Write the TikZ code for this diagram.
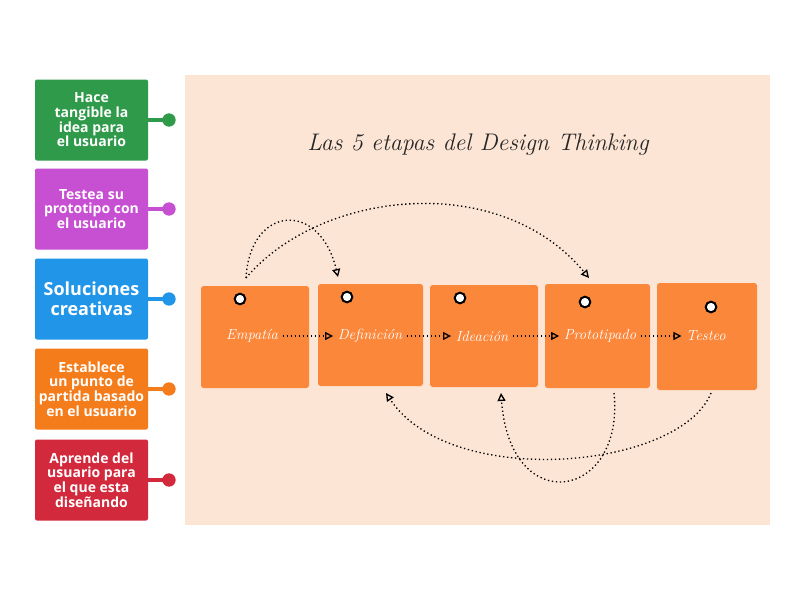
\documentclass[tikz,border=0pt]{standalone}
\usepackage{fontspec}
\setsansfont{Open Sans}
\usetikzlibrary{arrows.meta}
\definecolor{bgp}{HTML}{FDE5D5}
\definecolor{note}{HTML}{FB873B}
\definecolor{cg}{HTML}{2E9A4A}
\definecolor{cp}{HTML}{C64FD2}
\definecolor{cb}{HTML}{2196E8}
\definecolor{co}{HTML}{F57C1A}
\definecolor{cr}{HTML}{D22A3C}
\begin{document}
\begin{tikzpicture}[x=0.75pt,y=-0.75pt,
  lbox/.style={minimum width=84.75pt,minimum height=60.75pt,inner sep=1pt,text=white,font=\sffamily\bfseries\fontsize{10.5}{11}\selectfont,align=center},
  stick/.style={fill=note,rounded corners=2pt},
  pin/.style={circle,draw=black,line width=1.5pt,fill=white,inner sep=0pt,minimum size=8pt},
  lab/.style={text=white,font=\itshape\fontsize{11}{13}\selectfont},
  dl/.style={dotted,line width=1pt,-{Triangle[open,length=6pt,width=6pt,line width=1pt]}}]
\fill[white] (0,0) rectangle (800,600);
\fill[bgp] (185,75) rectangle (770,525);
\foreach \c/\y/\t/\n in {cg/120/{Hace\\tangible la\\idea para\\el usuario}/a, cp/209/{Testea su\\prototipo con\\el usuario}/b, cb/299/{}/c, co/389/{Establece\\un punto de\\partida basado\\en el usuario}/d, cr/480/{Aprende del\\usuario para\\el que esta\\diseñando}/e}{
  \node[lbox,fill=\c,rounded corners=1.5pt] (\n) at (91.5,\y) {\t};
  \coordinate (\n d) at (169,\y);
  \draw[\c,line width=2.5pt] (\n.east) -- (\n d);
  \fill[\c] (\n d) circle (5pt);
}
\node[text=white,font=\sffamily\bfseries\fontsize{13.5}{15}\selectfont,align=center] at (c) {Soluciones\\creativas};
\node[font=\itshape\fontsize{18}{20}\selectfont,text=black!85] (title) at (478,145) {Las 5 etapas del Design Thinking};
\fill[stick] (201,286) rectangle (309,388);
\fill[stick] (318,284) rectangle (423,386);
\fill[stick] (430,285) rectangle (538,387);
\fill[stick] (545,284) rectangle (650,388);
\fill[stick] (657,283) rectangle (757,390);
\node[pin] at (240,299) {};
\node[pin] at (347,297) {};
\node[pin] at (460,298) {};
\node[pin] at (585,302) {};
\node[pin] at (711,307) {};
\node[lab] (s1) at (252,336) {Empatía};
\node[lab] (s2) at (370,336) {Definición};
\node[lab] (s3) at (482,336) {Ideación};
\node[lab] (s4) at (600,336) {Prototipado};
\node[lab] (s5) at (706,336) {Testeo};
\draw[dl] (s1) -- (s2);
\draw[dl] (s2) -- (s3);
\draw[dl] (s3) -- (s4);
\draw[dl] (s4) -- (s5);
\coordinate (p0) at (246,278);
\coordinate (p1) at (338,277);
\coordinate (p2) at (589,278);
\coordinate (q5) at (711,393);
\coordinate (q4) at (614,393);
\coordinate (q2) at (386,393);
\coordinate (q3) at (501,393);
\draw[dl] (p0) .. controls (250,205) and (320,200) .. (p1);
\draw[dl] (p0) .. controls (320,190) and (500,170) .. (p2);
\draw[dl] (q5) .. controls (680,470) and (450,490) .. (q2);
\draw[dl] (q4) .. controls (625,500) and (510,520) .. (q3);
\end{tikzpicture}
\end{document}
